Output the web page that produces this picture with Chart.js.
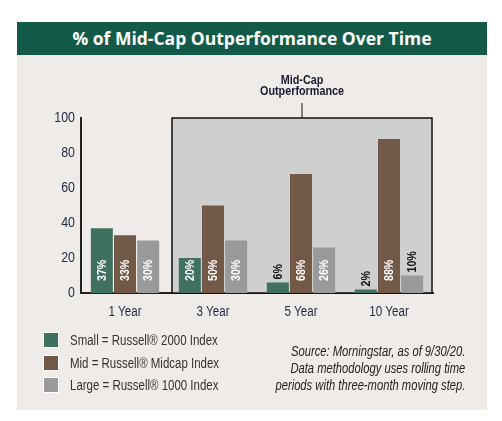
<!DOCTYPE html>
<html>
<head>
<meta charset="utf-8">
<script src="https://cdn.jsdelivr.net/npm/chart.js@4.4.0/dist/chart.umd.min.js"></script>
<style>
    body { margin: 0; background: #fff; width: 502px; height: 421px; position: relative; overflow: hidden; }
    .panel { position: absolute; left: 17px; top: 22px; width: 470px; height: 388px; background: #efebe8; }
    .header { position: absolute; left: 17px; top: 22px; width: 470px; height: 33px; background: #145a48;
        color: #fff; font: 700 17.5px "Open Sans", sans-serif; text-align: center; line-height: 33px; }
    #chart { position: absolute; left: 0; top: 0; }
    .legend { position: absolute; left: 43px; top: 332px; font: 15.5px "Liberation Sans", sans-serif; color: #333; }
    .legend div { height: 22.5px; line-height: 16px; position: relative; padding-left: 27px; white-space: nowrap; }
    .legend span { position: absolute; left: 0; top: 0; width: 16px; height: 16px; box-sizing: border-box; border: 1px solid #fff; }
    .legend i { font-style: normal; display: inline-block; transform: scaleX(0.74); transform-origin: left center; }
    .source { position: absolute; right: 37px; top: 343px; text-align: right; font: italic 14px "Liberation Sans", sans-serif;
        color: #222; line-height: 17px; }
    .source div { white-space: nowrap; transform: scaleX(0.8); transform-origin: right center; }
</style>
</head>
<body>
<div class="panel"></div>
<div class="header">% of Mid-Cap Outperformance Over Time</div>
<canvas id="chart" width="502" height="421"></canvas>
<div class="legend">
    <div><span style="background:#3f7060"></span><i>Small = Russell® 2000 Index</i></div>
    <div><span style="background:#725846"></span><i>Mid = Russell® Midcap Index</i></div>
    <div><span style="background:#9a9a9c"></span><i>Large = Russell® 1000 Index</i></div>
</div>
<div class="source">
    <div>Source: Morningstar, as of 9/30/20.</div>
    <div>Data methodology uses rolling time</div>
    <div>periods with three-month moving step.</div>
</div>
<script>
// Data
const periods = ['1 Year', '3 Year', '5 Year', '10 Year'];
const smallCap = [37, 20, 6, 2];
const midCap = [33, 50, 68, 88];
const largeCap = [30, 30, 26, 10];
const yTicks = [0, 20, 40, 60, 80, 100];

const sans = '"Liberation Sans", sans-serif';

// condensed look: squeeze text along its own direction
function narrowText(ctx, text, x, y, align, sx) {
    ctx.save();
    ctx.translate(x, y);
    ctx.scale(sx, 1);
    ctx.textAlign = align;
    ctx.fillText(text, 0, 0);
    ctx.restore();
}

// Gray box behind 3/5/10 Year plus the "Mid-Cap Outperformance" callout
const outperformBox = {
    id: 'outperformBox',
    beforeDatasetsDraw(chart) {
        const ctx = chart.ctx;
        const x = chart.scales.x, y = chart.scales.y;
        const left = (x.getPixelForTick(0) + x.getPixelForTick(1)) / 2 + 3;
        const right = chart.chartArea.right - 1;
        const top = y.getPixelForValue(100);
        const bottom = y.getPixelForValue(0);
        ctx.save();
        ctx.fillStyle = '#cfcfcf';
        ctx.fillRect(left, top, right - left, bottom - top);
        ctx.strokeStyle = '#111';
        ctx.lineWidth = 1.5;
        ctx.strokeRect(left, top, right - left, bottom - top);
        const mid = (left + right) / 2;
        ctx.beginPath();
        ctx.moveTo(mid, top);
        ctx.lineTo(mid, top - 15);
        ctx.lineWidth = 1;
        ctx.stroke();
        ctx.fillStyle = '#1a1a2e';
        ctx.font = 'bold 12px ' + sans;
        ctx.textBaseline = 'middle';
        narrowText(ctx, 'Mid-Cap', mid, top - 37, 'center', 0.9);
        narrowText(ctx, 'Outperformance', mid, top - 26, 'center', 0.9);
        ctx.restore();
    }
};

// Axis tick labels, drawn at the scales' own tick positions
const tickLabels = {
    id: 'tickLabels',
    afterDraw(chart) {
        const ctx = chart.ctx;
        const x = chart.scales.x, y = chart.scales.y;
        ctx.save();
        ctx.fillStyle = '#1f2a44';
        ctx.textBaseline = 'middle';
        ctx.font = '15.5px ' + sans;
        yTicks.forEach(v => narrowText(ctx, String(v), x.left - 6, y.getPixelForValue(v), 'right', 0.8));
        periods.forEach((p, i) => narrowText(ctx, p, x.getPixelForTick(i), y.bottom + 19, 'center', 0.75));
        ctx.restore();
    }
};

// Rotated percentage labels near the bottom of each bar
const barLabels = {
    id: 'barLabels',
    afterDatasetsDraw(chart) {
        const ctx = chart.ctx;
        const base = chart.scales.y.getPixelForValue(0);
        const sx = 0.85;
        ctx.save();
        ctx.font = 'bold 12.5px ' + sans;
        ctx.textBaseline = 'middle';
        chart.data.datasets.forEach((ds, i) => {
            chart.getDatasetMeta(i).data.forEach((bar, j) => {
                const text = ds.data[j] + '%';
                const w = ctx.measureText(text).width * sx;
                const inside = bar.y <= base - 12 - w + 2;
                const start = inside ? base - 12 : bar.y - 3;
                ctx.fillStyle = inside ? '#fff' : '#111';
                ctx.save();
                ctx.translate(bar.x + 0.5, start);
                ctx.rotate(-Math.PI / 2);
                narrowText(ctx, text, 0, 0, 'left', sx);
                ctx.restore();
            });
        });
        ctx.restore();
    }
};

new Chart(document.getElementById('chart'), {
    type: 'bar',
    data: {
        labels: periods,
        datasets: [
            { label: 'Small', data: smallCap, backgroundColor: '#3f7060' },
            { label: 'Mid', data: midCap, backgroundColor: '#725846' },
            { label: 'Large', data: largeCap, backgroundColor: '#9a9a9c' }
        ]
    },
    options: {
        responsive: false,
        animation: false,
        categoryPercentage: 0.79,
        barPercentage: 0.95,
        layout: { padding: { left: 0, right: 69, top: 118, bottom: 98 } },
        scales: {
            x: {
                grid: { display: false, drawTicks: false },
                border: { display: true, color: '#222', width: 2 },
                ticks: { display: false },
                afterFit: s => { s.height = 30; }
            },
            y: {
                min: 0,
                max: 100,
                afterBuildTicks: s => { s.ticks = yTicks.map(v => ({ value: v })); },
                grid: { display: false, drawTicks: false },
                border: { display: true, color: '#222', width: 2 },
                ticks: { display: false },
                afterFit: s => { s.width = 81; }
            }
        },
        plugins: {
            legend: { display: false },
            tooltip: { enabled: false }
        }
    },
    plugins: [outperformBox, barLabels, tickLabels]
});
</script>
</body>
</html>
